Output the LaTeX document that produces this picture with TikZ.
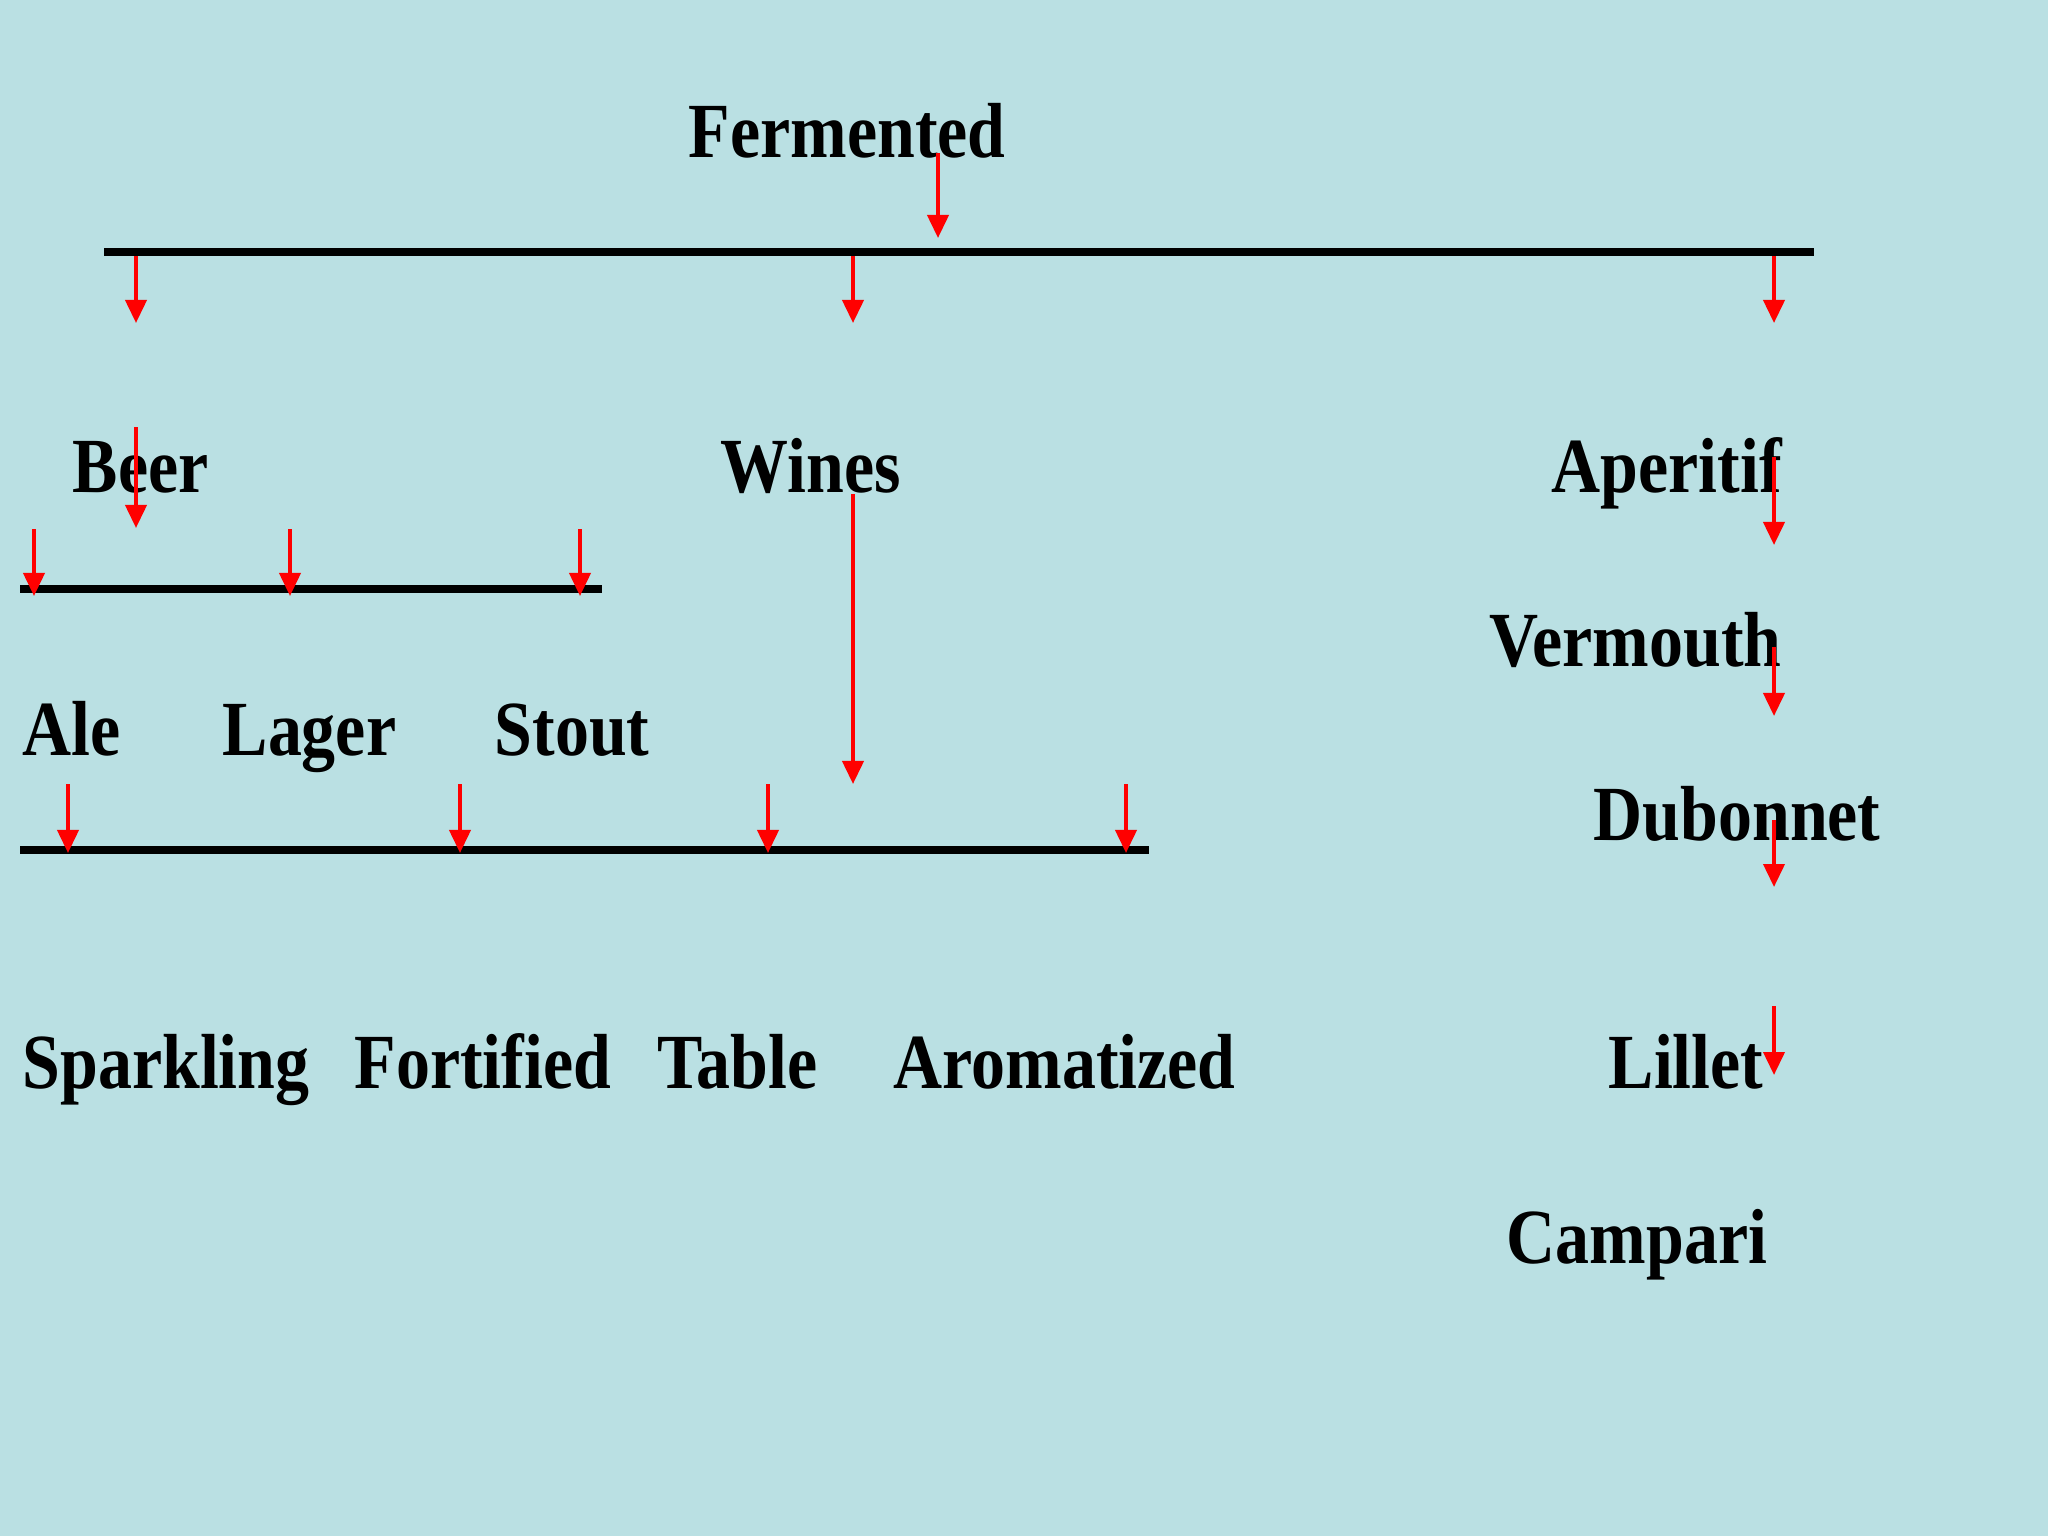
\documentclass[tikz,border=0pt]{standalone}
\usepackage{fontspec}
\setmainfont{Liberation Serif}
\newfontfamily\labfont[FakeStretch=0.87]{Liberation Serif}
\usetikzlibrary{arrows.meta}
\definecolor{bgblue}{RGB}{186,224,227}
\definecolor{arrred}{RGB}{255,0,0}
\tikzset{
  lab/.style={anchor=base west, inner sep=0pt, font=\labfont\bfseries\fontsize{22.2}{26}\selectfont, text=black},
  bar/.style={line width=2pt, black},
  arr/.style={line width=1.1pt, arrred, -{Triangle[width=2.1mm,length=2.3mm]}}
}
\begin{document}
\begin{tikzpicture}[x=0.01cm,y=-0.01cm]
\fill[bgblue] (0,0) rectangle (2048,1536);
\useasboundingbox (0,0) rectangle (2048,1536);
% labels
\node[lab] (ferm) at (688,157) {Fermented};
\node[lab] (beer) at (72,492) {Beer};
\node[lab] (wines) at (720,492) {Wines};
\node[lab] (aper) at (1551,492) {Aperitif};
\node[lab] (verm) at (1489,666) {Vermouth};
\node[lab] (dub) at (1593,840) {Dubonnet};
\node[lab] (lil) at (1608,1088) {Lillet};
\node[lab] (camp) at (1506,1263) {Campari};
\node[lab] (ale) at (22,755) {Ale};
\node[lab] (lager) at (222,755) {Lager};
\node[lab] (stout) at (494,755) {Stout};
\node[lab] (spark) at (22,1088) {Sparkling};
\node[lab] (fort) at (354,1088) {Fortified};
\node[lab] (table) at (657,1088) {Table};
\node[lab] (arom) at (893,1088) {Aromatized};
% bars
\coordinate (b1l) at (104,252); \coordinate (b1r) at (1814,252);
\coordinate (b2l) at (20,589);  \coordinate (b2r) at (602,589);
\coordinate (b3l) at (20,850);  \coordinate (b3r) at (1149,850);
\draw[bar] (b1l) -- (b1r);
\draw[bar] (b2l) -- (b2r);
\draw[bar] (b3l) -- (b3r);
% arrows
\coordinate (f0) at (938,153); \coordinate (f1) at (938,238);
\draw[arr] (f0) -- (f1);
\foreach \x/\n in {136/a,853/b,1774/c}{
  \coordinate (t0\n) at (\x,256); \coordinate (t1\n) at (\x,323);
  \draw[arr] (t0\n) -- (t1\n);
}
\coordinate (be0) at (136,427); \coordinate (be1) at (136,528);
\draw[arr] (be0) -- (be1);
\foreach \x/\n in {34/a,290/b,580/c}{
  \coordinate (s0\n) at (\x,529); \coordinate (s1\n) at (\x,596);
  \draw[arr] (s0\n) -- (s1\n);
}
\coordinate (w0) at (853,494); \coordinate (w1) at (853,784);
\draw[arr] (w0) -- (w1);
\foreach \x/\n in {68/a,460/b,768/c,1126/d}{
  \coordinate (u0\n) at (\x,784); \coordinate (u1\n) at (\x,853);
  \draw[arr] (u0\n) -- (u1\n);
}
\coordinate (ap0) at (1774,457); \coordinate (ap1) at (1774,545);
\draw[arr] (ap0) -- (ap1);
\coordinate (ve0) at (1774,647); \coordinate (ve1) at (1774,716);
\draw[arr] (ve0) -- (ve1);
\coordinate (du0) at (1774,820); \coordinate (du1) at (1774,887);
\draw[arr] (du0) -- (du1);
\coordinate (li0) at (1774,1006); \coordinate (li1) at (1774,1075);
\draw[arr] (li0) -- (li1);
\end{tikzpicture}
\end{document}
